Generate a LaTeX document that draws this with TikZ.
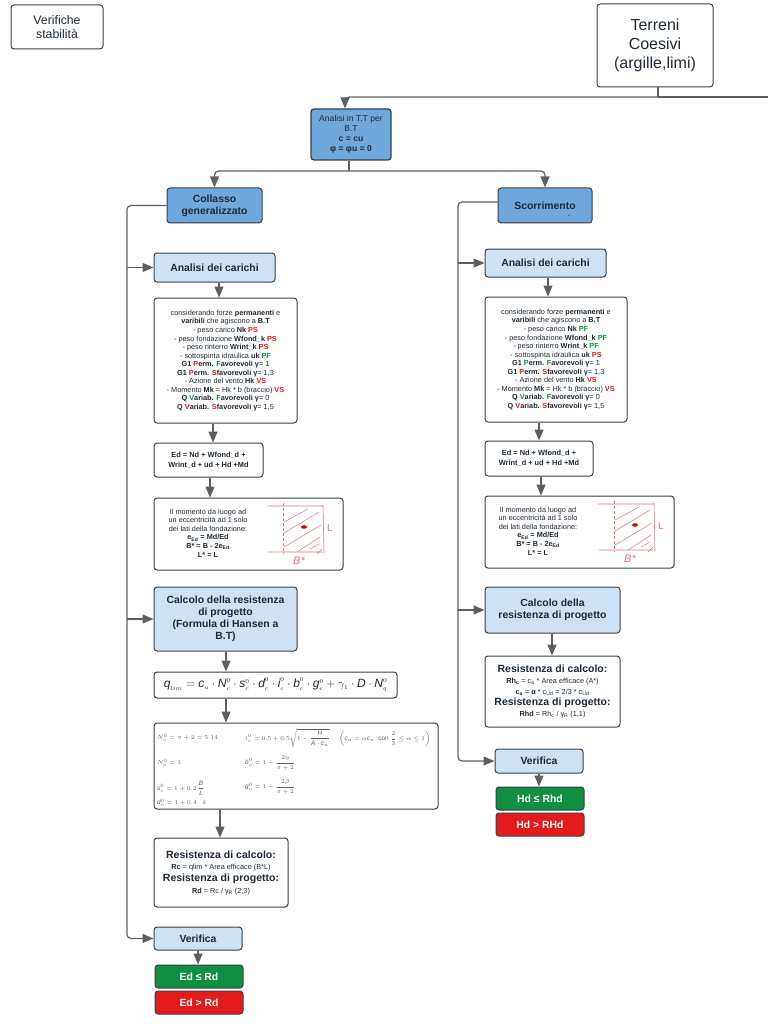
\documentclass[tikz,border=0pt]{standalone}
\usepackage{amsmath}
\usepackage{fontspec}
\setmainfont{Liberation Sans}
\usetikzlibrary{arrows.meta}
\DeclareMathSizes{12}{12}{6.5}{5}
\DeclareMathSizes{6.4}{6.4}{4.5}{4}
\definecolor{darkblue}{HTML}{6FA8DC}
\definecolor{lightblue}{HTML}{CFE2F3}
\definecolor{okgreen}{HTML}{0F8F3F}
\definecolor{kored}{HTML}{E31B1B}
\definecolor{inkgray}{HTML}{5F5F5F}
\definecolor{linegray}{HTML}{3A3F47}
\definecolor{textgray}{HTML}{1F2937}
\definecolor{penred}{HTML}{E2737B}
\newcommand{\rosso}[1]{\textcolor{kored}{\textbf{#1}}}
\newcommand{\verde}[1]{\textcolor{okgreen}{\textbf{#1}}}
\newcommand{\vi}[1]{\mbox{\itshape #1}}
\tikzset{sketchpic/.pic={
    \draw[penred,line width=0.6pt] (0,0)--(56,0) (1,46)--(55,46) (56,-1)--(57,47);
    \draw[penred,line width=0.6pt,densely dashed] (16,-3)--(16,48);
    \draw[penred,line width=0.5pt] (17,16)--(41,3) (17,27)--(52,6) (17,41)--(54,19)
    (30,46)--(53,31) (43,43)--(52,38) (50,48)--(55,43);
    \fill[red!85!black] (37,21) ellipse (3 and 1.8);
    \node[text=penred,font=\fontsize{10}{10}\selectfont] (labL) at (63,22) {L};
    \node[text=penred,font=\fontsize{11}{11}\itshape\selectfont] (labB) at (32,55) {B*};
}}
\begin{document}
\begin{tikzpicture}[x=1pt,y=-1pt]
    \tikzstyle{every node}=[align=center,inner sep=0pt,text=textgray]
    \tikzstyle{whitebox}=[draw=linegray,line width=1pt,rounded corners=3pt,fill=white]
    \tikzstyle{bluebox}=[whitebox,fill=darkblue,font=\fontsize{10.4}{12.2}\bfseries\selectfont]
    \tikzstyle{paleblue}=[whitebox,fill=lightblue,font=\fontsize{10.4}{12.2}\bfseries\selectfont]
    \tikzstyle{small}=[font=\fontsize{7.3}{8.55}\selectfont]
    \tikzstyle{okbox}=[whitebox,fill=okgreen,text=white,minimum width=88,minimum height=23,font=\fontsize{10.4}{11}\bfseries\selectfont]
    \tikzstyle{kobox}=[whitebox,fill=kored,text=white,minimum width=88,minimum height=23,font=\fontsize{10.4}{11}\bfseries\selectfont]
    \tikzstyle{mathlab}=[anchor=west,text=inkgray,font=\fontsize{6.4}{8}\selectfont]
    \tikzstyle{lines}=[draw=inkgray,line width=1.2pt,rounded corners=4pt]
    \tikzstyle{vectors}=[lines,-{Triangle[width=9pt,length=11pt]}]
    \useasboundingbox (0,0) rectangle (768,1024);

    % top boxes
    \node[whitebox,minimum width=92,minimum height=44,font=\fontsize{12.3}{14}\selectfont] (stabilita) at (57,27) {Verifiche\\stabilità};
    \node[whitebox,minimum width=116,minimum height=83,font=\fontsize{16}{18.8}\selectfont] (terreni) at (655,45.5) {Terreni\\Coesivi\\(argille,limi)};
    \node[bluebox,line width=1.3pt,minimum width=80,minimum height=51,font=\fontsize{8.6}{10}\selectfont] (analisi) at (351,134.5) {Analisi in T.T per\\B.T\\\textbf{c = cu}\\\textbf{φ = φu = 0}};
    \node[bluebox,minimum width=95,minimum height=35] (collasso) at (214.5,205.5) {Collasso\\generalizzato};
    \node[bluebox,minimum width=94,minimum height=35] (scorrimento) at (545,205.5) {Scorrimento};
    \node[small] (trattino) at (569,216) {-};

    % left column
    \node[paleblue,minimum width=121,minimum height=29] (carichiL) at (214.5,267.5) {Analisi dei carichi};
    \node[whitebox,small,minimum width=143,minimum height=125] (forzeL) at (225.5,360.5) {considerando forze \textbf{permanenti} e\\\textbf{varibili} che agiscono a \textbf{B.T}\\- peso carico \textbf{Nk} \rosso{PS}\\- peso fondazione \textbf{Wfond\_k} \rosso{PS}\\- peso rinterro \textbf{Wrint\_k} \rosso{PS}\\- sottospinta idraulica \textbf{uk} \verde{PF}\\\textbf{G1} \rosso{P}\textbf{erm.} \verde{F}\textbf{avorevoli γ}= 1\\\textbf{G1} \rosso{P}\textbf{erm.} \rosso{S}\textbf{favorevoli γ}= 1,3\\- Azione del vento \textbf{Hk} \rosso{VS}\\- Momento \textbf{Mk} = Hk * b (braccio) \rosso{VS}\\\textbf{Q} \verde{V}\textbf{ariab.} \verde{F}\textbf{avorevoli γ}= 0\\\textbf{Q} \rosso{V}\textbf{ariab.} \rosso{S}\textbf{favorevoli γ}= 1,5};
    \node[whitebox,minimum width=109,minimum height=34,font=\fontsize{7.4}{10}\bfseries\selectfont] (edL) at (208.5,460) {Ed = Nd + Wfond\_d +\\Wrint\_d + ud + Hd +Md};
    \node[whitebox,minimum width=189,minimum height=72] (momentoL) at (248.5,534) {};
    \node[small] (mtestoL) at (208,533) {Il momento da luogo ad\\un eccentricità ad 1 solo\\dei lati della fondazione:\\\textbf{e\textsubscript{Ed} = Md/Ed}\\\textbf{B* = B - 2e\textsubscript{Ed}}\\\textbf{L* = L}};
    \pic (sketchL) at (267,506) {sketchpic};
    \node[paleblue,minimum width=143,minimum height=64] (calcoloL) at (225.5,619) {Calcolo della resistenza\\di progetto\\(Formula di Hansen a\\B.T)};
    \node[whitebox,minimum width=243,minimum height=26,font=\fontsize{12}{14}\selectfont] (hansen) at (275.5,685) {$\vi{q}_{lim}=\vi{c}_u\cdot \vi{N}_c^0\cdot \vi{s}_c^0\cdot \vi{d}_c^0\cdot \vi{i}_c^0\cdot \vi{b}_c^0\cdot \vi{g}_c^0+\gamma_1\cdot \vi{D}\cdot \vi{N}_q^0$};
    \node[whitebox,minimum width=284,minimum height=86] (formule) at (296,766) {};
    \node[mathlab] (nc) at (157,738) {$N_c^0=\pi+2=5.14$};
    \node[mathlab] (ic) at (245,738) {$i_c^0=0.5+0.5\sqrt{1-\dfrac{\vi{H}}{\vi{A}\cdot \vi{c}_a}}$};
    \node[mathlab] (ca) at (339,739) {$\left(\vi{c}_a=\alpha \vi{c}_u\ \ \mbox{con}\ \dfrac{2}{3}\le\alpha\le1\right)$};
    \node[mathlab] (nq) at (157,763) {$N_c^0=1$};
    \node[mathlab] (bc) at (245,763) {$\vi{b}_c^0=1-\dfrac{2\eta}{\pi+2}$};
    \node[mathlab] (sc) at (157,788) {$\vi{s}_c^0=1+0.2\,\dfrac{\vi{B}}{\vi{L}}$};
    \node[mathlab] (gc) at (245,787) {$\vi{g}_c^0=1-\dfrac{2\beta}{\pi+2}$};
    \node[mathlab] (dc) at (157,803) {$\vi{d}_c^0=1+0.4\cdot k$};
    \node[whitebox,minimum width=134,minimum height=69,font=\fontsize{7.3}{11.7}\selectfont] (resL) at (221,872.5) {{\fontsize{10.5}{12}\bfseries\selectfont Resistenza di calcolo:}\\\textbf{Rc} = qlim * Area efficace (B*L)\\{\fontsize{10.5}{12}\bfseries\selectfont Resistenza di progetto:}\\\textbf{Rd} = Rc / γ\textsubscript{R} (2,3)};
    \node[paleblue,minimum width=88,minimum height=23] (verificaL) at (198,938.5) {Verifica};
    \node[okbox] (edok) at (199,976.5) {Ed ≤ Rd};
    \node[kobox] (edko) at (199,1002.5) {Ed > Rd};

    % right column
    \node[paleblue,minimum width=121,minimum height=28] (carichiR) at (545.5,263) {Analisi dei carichi};
    \node[whitebox,small,minimum width=142,minimum height=125] (forzeR) at (556,359.5) {considerando forze \textbf{permanenti} e\\\textbf{varibili} che agiscono a \textbf{B.T}\\- peso carico \textbf{Nk} \verde{PF}\\- peso fondazione \textbf{Wfond\_k} \verde{PF}\\- peso rinterro \textbf{Wrint\_k} \verde{PF}\\- sottospinta idraulica \textbf{uk} \rosso{PS}\\\textbf{G1} \verde{P}\textbf{erm.} \verde{F}\textbf{avorevoli γ}= 1\\\textbf{G1} \rosso{P}\textbf{erm.} \rosso{S}\textbf{favorevoli γ}= 1,3\\- Azione del vento \textbf{Hk} \rosso{VS}\\- Momento \textbf{Mk} = Hk * b (braccio) \rosso{VS}\\\textbf{Q} \verde{V}\textbf{ariab.} \verde{F}\textbf{avorevoli γ}= 0\\\textbf{Q} \rosso{V}\textbf{ariab.} \rosso{S}\textbf{favorevoli γ}= 1,5};
    \node[whitebox,minimum width=108,minimum height=35,font=\fontsize{7.4}{10}\bfseries\selectfont] (edR) at (539,458.5) {Ed = Nd + Wfond\_d +\\Wrint\_d + ud + Hd +Md};
    \node[whitebox,minimum width=189,minimum height=72] (momentoR) at (579.5,532) {};
    \node[small] (mtestoR) at (538,531) {Il momento da luogo ad\\un eccentricità ad 1 solo\\dei lati della fondazione:\\\textbf{e\textsubscript{Ed} = Md/Ed}\\\textbf{B* = B - 2e\textsubscript{Ed}}\\\textbf{L* = L}};
    \pic (sketchR) at (598,504) {sketchpic};
    \node[paleblue,minimum width=135,minimum height=46] (calcoloR) at (552.5,610) {Calcolo della\\resistenza di progetto};
    \node[whitebox,minimum width=135,minimum height=71,font=\fontsize{7.3}{10.8}\selectfont] (resR) at (552.5,691.5) {{\fontsize{10.5}{11}\bfseries\selectfont Resistenza di calcolo:}\\\textbf{Rh\textsubscript{c}} = c\textsubscript{a} * Area efficace (A*)\\\textbf{c\textsubscript{a}} = \textbf{α} * c\textsubscript{Ud} = 2/3 * c\textsubscript{Ud}\\{\fontsize{10.5}{11}\bfseries\selectfont Resistenza di progetto:}\\\textbf{Rhd} = Rh\textsubscript{c} / γ\textsubscript{R} (1,1)};
    \node[paleblue,minimum width=88,minimum height=24] (verificaR) at (539,761) {Verifica};
    \node[okbox] (hdok) at (540,798.5) {Hd ≤ Rhd};
    \node[kobox] (hdko) at (540,824.5) {Hd > RHd};

    % rails
    \coordinate (railL) at (127,0);
    \coordinate (railR) at (458,0);
    \coordinate (busTop) at (658,97);
    \coordinate (busEnd) at (768,97);
    \coordinate (busOut) at (349,171);

    % connectors at the top
    \draw[lines] (658,0 |- terreni.south) -- (busTop);
    \draw[lines] (busTop) -- (busEnd);
    \draw[vectors] (busTop) -- (345,97) -- (345,0 |- analisi.north);
    \draw[lines] (349,0 |- analisi.south) -- (busOut);
    \draw[vectors] (busOut) -| (collasso.north);
    \draw[vectors] (busOut) -| (scorrimento.north);

    % left rail
    \draw[vectors] (collasso.west) -| (railL |- verificaL.west) -- (verificaL.west);
    \draw[vectors] (railL |- carichiL.west) -- (carichiL.west);
    \draw[vectors] (railL |- calcoloL.west) -- (calcoloL.west);
    \draw[vectors] (219,0 |- carichiL.south) -- (219,0 |- forzeL.north);
    \draw[vectors] (213,0 |- forzeL.south) -- (213,0 |- edL.north);
    \draw[vectors] (210,0 |- edL.south) -- (210,0 |- momentoL.north);
    \draw[vectors] (226,0 |- calcoloL.south) -- (226,0 |- hansen.north);
    \draw[vectors] (226,0 |- hansen.south) -- (226,0 |- formule.north);
    \draw[vectors] (220,0 |- formule.south) -- (220,0 |- resL.north);
    \draw[vectors] (198,0 |- verificaL.south) -- (198,0 |- edok.north);

    % right rail
    \draw[vectors] ([yshift=3.5pt]scorrimento.west) -| (railR |- verificaR.west) -- (verificaR.west);
    \draw[vectors] (railR |- carichiR.west) -- (carichiR.west);
    \draw[vectors] (railR |- calcoloR.west) -- (calcoloR.west);
    \draw[vectors] (548,0 |- carichiR.south) -- (548,0 |- forzeR.north);
    \draw[vectors] (539,0 |- forzeR.south) -- (539,0 |- edR.north);
    \draw[vectors] (541,0 |- edR.south) -- (541,0 |- momentoR.north);
    \draw[vectors] (552,0 |- calcoloR.south) -- (552,0 |- resR.north);
    \draw[vectors] (539,0 |- verificaR.south) -- (539,0 |- hdok.north);
\end{tikzpicture}
\end{document}
